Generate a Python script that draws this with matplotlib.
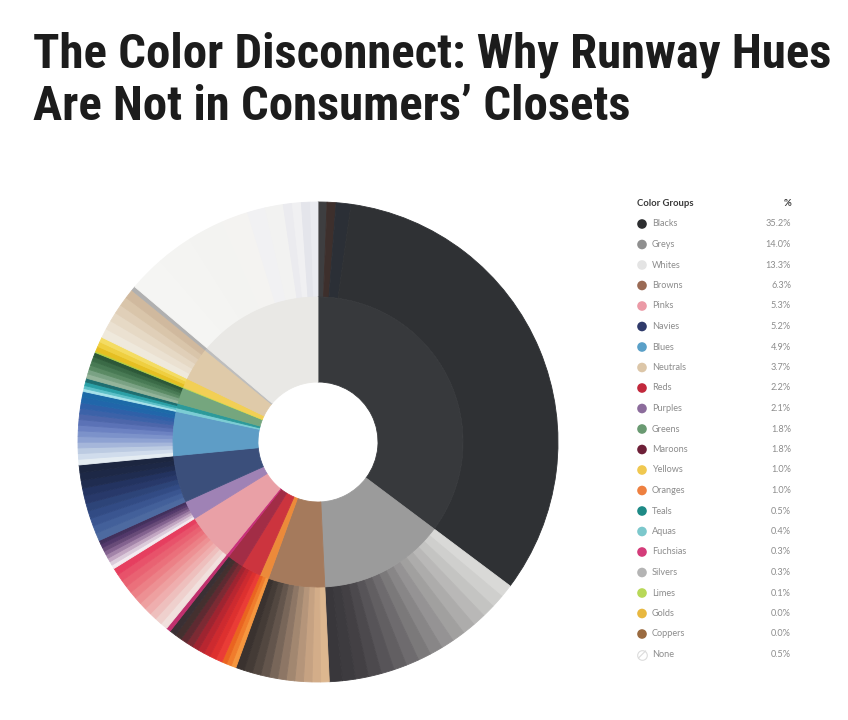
import numpy as np
import matplotlib.pyplot as plt
from matplotlib import font_manager as fm

# legend table (as listed in the reference)
groups = ['Blacks', 'Greys', 'Whites', 'Browns', 'Pinks', 'Navies', 'Blues', 'Neutrals',
          'Reds', 'Purples', 'Greens', 'Maroons', 'Yellows', 'Oranges', 'Teals', 'Aquas',
          'Fuchsias', 'Silvers', 'Limes', 'Golds', 'Coppers', 'None']
pcts = [35.2, 14.0, 13.3, 6.3, 5.3, 5.2, 4.9, 3.7, 2.2, 2.1, 1.8, 1.8, 1.0, 1.0,
        0.5, 0.4, 0.3, 0.3, 0.1, 0.0, 0.0, 0.5]
dot_colors = ['#2d2e30', '#8f8f8f', '#e4e4e4', '#9a6a55', '#eb9aa6', '#2f3a6a', '#5aa0c8',
              '#dcc6a8', '#c2283c', '#8c6c9c', '#6a9a72', '#6e2038', '#f0c850', '#ee8040',
              '#1e8a86', '#7cc8cc', '#d43c7a', '#b4b4b4', '#b8d858', '#e8b840', '#9a6a40',
              '#ffffff']

# clockwise order of the wheel, starting at 12 o'clock
ring_order = ['Blacks', 'Greys', 'Browns', 'Coppers', 'Oranges', 'Reds', 'Maroons',
              'Fuchsias', 'Pinks', 'Purples', 'Navies', 'Blues', 'Aquas', 'Teals',
              'Greens', 'Limes', 'Yellows', 'Golds', 'Neutrals', 'Silvers', 'Whites', 'None']
ring_colors = ['#37393c', '#9b9b9b', '#a57a5c', '#9a6a40', '#ec8a3a', '#cc343e', '#a22d46',
               '#c8307a', '#e9a0a6', '#9f82b5', '#3b4f7b', '#5e9dc6', '#7ccdd4', '#2c9a9a',
               '#75a67e', '#c0d850', '#f2cf55', '#e8b840', '#dfcaa9', '#bdbdbd', '#e9e8e5',
               '#e9e8e5']

# outer ring: shades inside each group (clockwise), with rough relative widths
shade_colors = [
    ['#3e3e40', '#3d2f2c', '#2b2f36', '#2f3134'],
    ['#d9d9d7', '#cfcfcd', '#c4c4c2', '#b9b8b7', '#adacab', '#a1a09f', '#959394',
     '#888687', '#7b797a', '#6e6b6e', '#625f62', '#575458', '#4c494d', '#434044',
     '#3d3b3f', '#39373b'],
    ['#ddb78f', '#d3ad89', '#c6a282', '#b5957a', '#a28770', '#8d7665', '#786659',
     '#63554c', '#524740', '#443b36', '#3a322f'],
    ['#9a6a40'],
    ['#f5963e', '#f07c2c', '#ea6420'],
    ['#ea3c36', '#dd302f', '#cd2a2f', '#b82630', '#9e2430'],
    ['#7c2a33', '#5e2a31', '#44302f', '#3a3034'],
    ['#c0306e'],
    ['#f1e0dd', '#efd0cd', '#eebfbd', '#efaeae', '#eea0a0', '#ed9093', '#ec8086',
     '#eb707b', '#e96272', '#e8526a', '#e63e5f'],
    ['#f3eaf0', '#dccbdb', '#c2a6c2', '#a283a8', '#83628f', '#684b78', '#52386a', '#42305c'],
    ['#4d6aa0', '#43609a', '#3a5590', '#324b84', '#2d4478', '#28396a', '#233360',
     '#1f2c50', '#1d2846', '#1c2640'],
    ['#e4ecf2', '#d0dcec', '#bccbe2', '#a5b6da', '#8ea2d2', '#7c92ca', '#6c82c2',
     '#5b72b6', '#4d66aa', '#3c62a8', '#2f60a8', '#2166aa', '#1c6aa8'],
    ['#a6e2ea', '#5cc0c8'],
    ['#2aa0a6', '#1e6e70'],
    ['#94b49a', '#7aa284', '#5a8a64', '#487a54', '#3a6a46', '#2c5838'],
    ['#b8d040'],
    ['#e6bf22', '#efcf40', '#f4dc62'],
    ['#e8b840'],
    ['#efe9dc', '#ebe1d1', '#e6d9c5', '#e0cfb8', '#d9c5aa', '#d0b99e'],
    ['#b0b0b0'],
    ['#f5f5f3', '#f4f4f2', '#f3f3f1', '#f4f3f1', '#f1f1f3', '#f2f2f1', '#ebebef', '#f0f0f2', '#e4e5eb'],
    ['#eaebf0'],
]
shade_weights = [
    [0.6, 0.6, 1.0, 33.0],
    [1] * 16,
    [1] * 11,
    [1],
    [1, 1, 1],
    [1, 1, 1, 1, 1],
    [1, 1, 1, 1],
    [1],
    [1] * 11,
    [1] * 8,
    [1] * 10,
    [1] * 13,
    [1, 1],
    [1, 1],
    [1] * 6,
    [1],
    [1, 1, 1],
    [1],
    [1] * 6,
    [1],
    [4, 4, 4, 3, 2, 2, 1, 1, 1],
    [1],
]

title_lines = ['The Color Disconnect: Why Runway Hues', 'Are Not in Consumers\u2019 Closets']

W, H = 848, 720
fig = plt.figure(figsize=(W / 100, H / 100), dpi=100)
fig.patch.set_facecolor('white')

# ---- wheel ----
cx, cy, R = 318, 442, 240
ax = fig.add_axes([(cx - R) / W, (H - cy - R) / H, 2 * R / W, 2 * R / H])
pct_of = dict(zip(groups, pcts))

inner_vals, inner_cols = [], []
outer_vals, outer_cols = [], []
for name, col, shades, wts in zip(ring_order, ring_colors, shade_colors, shade_weights):
    v = pct_of[name]
    if v <= 0:
        continue
    inner_vals.append(v)
    inner_cols.append(col)
    tot = sum(wts)
    for s, w in zip(shades, wts):
        outer_vals.append(v * w / tot)
        outer_cols.append(s)

r_hole, r_mid = 60 / R, 145 / R
wo, _ = ax.pie(outer_vals, colors=outer_cols, radius=1.0, startangle=90, counterclock=False,
               wedgeprops=dict(width=1 - r_mid, linewidth=0.6))
for w in wo:
    w.set_edgecolor(w.get_facecolor())
wi, _ = ax.pie(inner_vals, colors=inner_cols, radius=r_mid, startangle=90, counterclock=False,
               wedgeprops=dict(width=r_mid - r_hole, linewidth=0.6))
for w in wi:
    w.set_edgecolor(w.get_facecolor())
ax.set_xlim(-1.0, 1.0)
ax.set_ylim(-1.0, 1.0)
ax.set_aspect('equal')
ax.axis('off')

# ---- legend table ----
lg = fig.add_axes([0, 0, 1, 1], zorder=5)
lg.set_xlim(0, W)
lg.set_ylim(H, 0)
lg.axis('off')
lg.patch.set_alpha(0)

fnt = 'Lato'
lg.text(637, 203, 'Color Groups', fontsize=6.8, fontweight='bold', color='#3a3a3a',
        family=fnt, va='center', ha='left')
lg.text(791, 203, '%', fontsize=6.8, fontweight='bold', color='#3a3a3a',
        family=fnt, va='center', ha='right')
y0, dy = 224, 20.5
for i, (g, p, c) in enumerate(zip(groups, pcts, dot_colors)):
    y = y0 + i * dy
    if g == 'None':
        lg.scatter([642], [y], s=48, facecolor='white', edgecolor='#dcdcdc', linewidth=0.8)
        lg.plot([638.5, 645.5], [y + 3.5, y - 3.5], color='#dcdcdc', lw=0.8)
    else:
        lg.scatter([642], [y], s=48, color=c, edgecolor='none')
    lg.text(652, y, g, fontsize=6.6, color='#8c8c8c', family=fnt, va='center', ha='left')
    lg.text(791, y, f'{p:.1f}%', fontsize=6.6, color='#8c8c8c', family=fnt,
            va='center', ha='right')

# ---- title: pick a narrow face if one is installed ----
installed = {(f.name, f.stretch) for f in fm.fontManager.ttflist}
names = {n for n, _ in installed}
tkw = dict(family=['DejaVu Sans'])
for cand in ['Liberation Sans Narrow', 'Roboto Condensed', 'Open Sans Condensed',
             'Noto Sans Condensed', 'DejaVu Sans Condensed']:
    if cand in names:
        tkw = dict(family=[cand, 'DejaVu Sans'])
        break
else:
    for fam in ['Roboto', 'Noto Sans', 'Open Sans', 'DejaVu Sans', 'Liberation Sans']:
        if any(n == fam and s in ('condensed', 'semi-condensed', 'extra-condensed', 'ultra-condensed')
               for n, s in installed):
            tkw = dict(family=[fam], fontstretch='condensed')
            break

t1 = fig.text(33 / W, 1 - 68 / H, title_lines[0], fontsize=40, fontweight='bold',
              color='#1c1c1c', va='baseline', ha='left', **tkw)
t2 = fig.text(33 / W, 1 - 120 / H, title_lines[1], fontsize=40, fontweight='bold',
              color='#1c1c1c', va='baseline', ha='left', **tkw)
rend = fig.canvas.get_renderer()
wpx = t1.get_window_extent(rend).width
fs = 40 * 797 / wpx
t1.set_fontsize(fs)
t2.set_fontsize(fs)

fig.savefig('out.png', dpi=100, facecolor='white')
